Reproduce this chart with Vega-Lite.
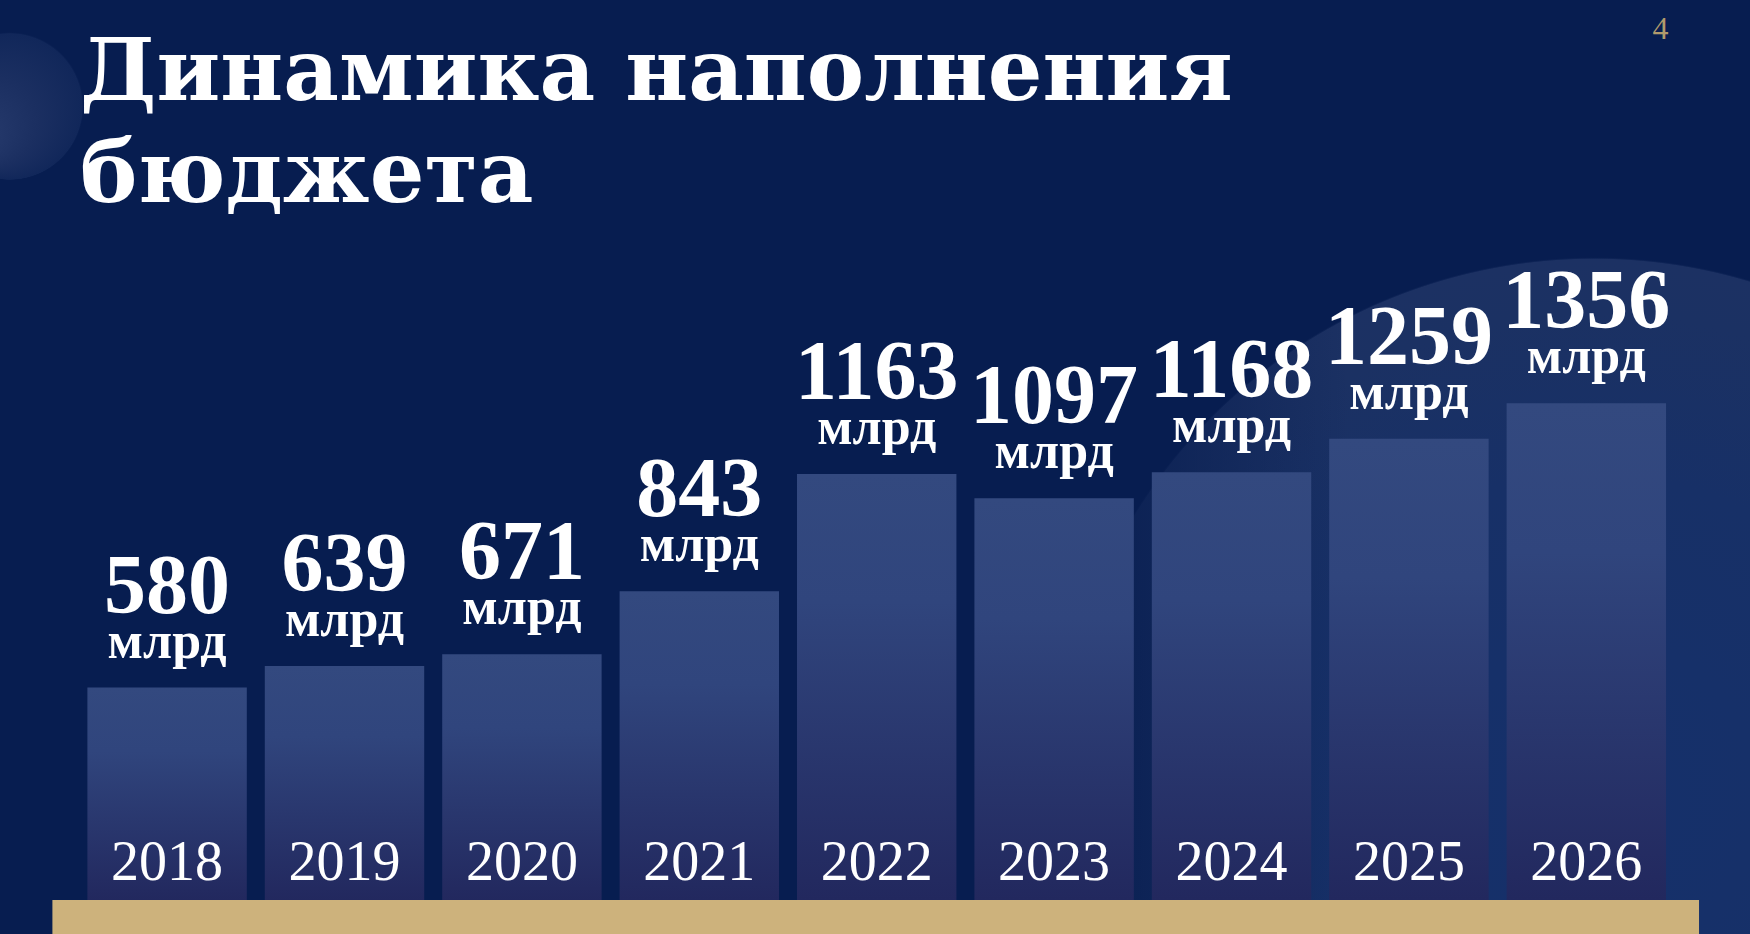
{
  "$schema": "https://vega.github.io/schema/vega-lite/v6.json",
  "width": 1750,
  "height": 934,
  "padding": 0,
  "autosize": {"type": "none"},
  "background": "#071d50",
  "title": {
    "text": ["Динамика наполнения", "бюджета"],
    "anchor": "start",
    "frame": "group",
    "offset": -220,
    "dx": 80,
    "font": "DejaVu Serif",
    "fontSize": 86,
    "fontWeight": "bold",
    "color": "#ffffff",
    "lineHeight": 102
  },
  "data": {
    "values": [
      {"year": "2018", "value": 580},
      {"year": "2019", "value": 639},
      {"year": "2020", "value": 671},
      {"year": "2021", "value": 843},
      {"year": "2022", "value": 1163},
      {"year": "2023", "value": 1097},
      {"year": "2024", "value": 1168},
      {"year": "2025", "value": 1259},
      {"year": "2026", "value": 1356}
    ]
  },
  "layer": [
    {
      "data": {"values": [{}]},
      "mark": {
        "type": "rect",
        "fill": {
          "gradient": "radial",
          "x1": 0.9109, "y1": 0.6897, "r1": 0,
          "x2": 0.9109, "y2": 0.6897, "r2": 0.3097,
          "stops": [
            {"offset": 0, "color": "#15306b"},
            {"offset": 0.6, "color": "#173067"},
            {"offset": 0.9, "color": "#1b3163"},
            {"offset": 0.996, "color": "#1c3163"},
            {"offset": 1, "color": "rgba(7,29,80,0)"}
          ]
        }
      },
      "encoding": {}
    },
    {
      "data": {"values": [{}]},
      "mark": {
        "type": "rect",
        "fill": {
          "gradient": "linear",
          "x1": 0.6, "y1": 0, "x2": 0.771, "y2": 0,
          "stops": [
            {"offset": 0, "color": "rgba(7,29,80,1)"},
            {"offset": 1, "color": "rgba(7,29,80,0)"}
          ]
        }
      },
      "encoding": {}
    },
    {
      "data": {"values": [{}]},
      "mark": {
        "type": "rect",
        "fill": {
          "gradient": "radial",
          "x1": -0.02, "y1": 0.316, "r1": 0,
          "x2": 0.0057, "y2": 0.2937, "r2": 0.0423,
          "stops": [
            {"offset": 0, "color": "#2a3e70"},
            {"offset": 0.6, "color": "#1b2f61"},
            {"offset": 0.985, "color": "#11275a"},
            {"offset": 1, "color": "rgba(7,29,80,0)"}
          ]
        }
      },
      "encoding": {}
    },
    {
      "data": {"values": [{}]},
      "mark": {"type": "rect", "fill": "#cdb27c", "xOffset": -35, "x2Offset": 33},
      "encoding": {
        "x": {"datum": "2018", "type": "ordinal", "bandPosition": 0},
        "x2": {"datum": "2026", "bandPosition": 1},
        "y": {"datum": 0, "type": "quantitative", "scale": {"domain": [-92.8, 2457], "nice": false, "zero": false}},
        "y2": {"datum": -100}
      }
    },
    {
      "mark": {
        "type": "bar",
        "fill": {
          "gradient": "linear",
          "x1": 0, "y1": 0, "x2": 0, "y2": 1,
          "stops": [
            {"offset": 0, "color": "#33497f"},
            {"offset": 0.3, "color": "#30457d"},
            {"offset": 1, "color": "#22285e"}
          ]
        }
      },
      "encoding": {
        "x": {
          "field": "year",
          "type": "ordinal",
          "scale": {"paddingInner": 0.1015, "paddingOuter": 0.483, "align": 0.51},
          "axis": {
            "orient": "bottom",
            "title": null,
            "bandPosition": 0.5,
            "domain": false,
            "ticks": false,
            "tickSize": 0,
            "grid": false,
            "labelAngle": 0,
            "labelPadding": -55,
            "labelBaseline": "alphabetic",
            "labelAlign": "center",
            "labelFont": "Liberation Serif",
            "labelFontSize": 56,
            "labelColor": "#ffffff",
            "zindex": 1
          }
        },
        "y": {
          "field": "value",
          "type": "quantitative",
          "scale": {"domain": [-92.8, 2457], "nice": false, "zero": false},
          "axis": {
            "orient": "right",
            "labels": false,
            "ticks": false,
            "domain": false,
            "grid": false,
            "title": "4",
            "titleAngle": 0,
            "titleX": -90,
            "titleY": 38,
            "titleAlign": "center",
            "titleBaseline": "alphabetic",
            "titleFont": "Liberation Serif",
            "titleFontSize": 32,
            "titleFontWeight": "normal",
            "titleColor": "#b09a6c"
          }
        },
        "y2": {"datum": 0}
      }
    },
    {
      "mark": {
        "type": "text",
        "align": "center",
        "baseline": "alphabetic",
        "dy": -75,
        "font": "Liberation Serif",
        "fontSize": 84,
        "fontWeight": "bold",
        "fill": "#ffffff"
      },
      "encoding": {
        "x": {"field": "year", "type": "ordinal"},
        "y": {"field": "value", "type": "quantitative"},
        "text": {"field": "value", "type": "quantitative", "format": "d"}
      }
    },
    {
      "mark": {
        "type": "text",
        "align": "center",
        "baseline": "alphabetic",
        "dy": -30,
        "font": "Liberation Serif",
        "fontSize": 52,
        "fontWeight": "bold",
        "fill": "#ffffff"
      },
      "encoding": {
        "x": {"field": "year", "type": "ordinal"},
        "y": {"field": "value", "type": "quantitative"},
        "text": {"value": "млрд"}
      }
    }
  ],
  "config": {
    "view": {"stroke": null}
  }
}
